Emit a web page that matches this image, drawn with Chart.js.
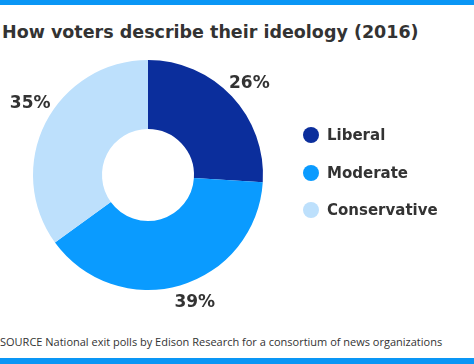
<!DOCTYPE html>
<html><head><meta charset="utf-8">
<script src="https://cdn.jsdelivr.net/npm/chart.js@4"></script>
<style>
html,body{margin:0;padding:0;background:#fff;width:474px;height:364px;overflow:hidden;position:relative;font-family:"DejaVu Sans",sans-serif;color:#333;}
#topbar{position:absolute;left:0;top:0;width:474px;height:5px;background:#0a96f5;}
#botbar{position:absolute;left:0;top:358px;width:474px;height:6px;background:#0a96f5;}
#title{position:absolute;left:2px;top:22px;font-weight:bold;font-size:17.5px;white-space:nowrap;}
#source{position:absolute;left:0;top:334px;font-family:"Open Sans",sans-serif;font-size:11px;white-space:nowrap;color:#333;}
#wrap{position:absolute;left:0;top:40px;width:474px;height:280px;}
</style></head><body>
<div id="topbar"></div>
<div id="title">How voters describe their ideology (2016)</div>
<div id="wrap"><canvas id="c"></canvas></div>
<div id="source">SOURCE National exit polls by Edison Research for a consortium of news organizations</div>
<div id="botbar"></div>
<script>
const categories = ["Liberal", "Moderate", "Conservative"];
const values = [26, 39, 35];
const colors = ["#0b2e9c", "#0a9bff", "#bde0fc"];

const labelPlugin = {
  id: 'labels',
  afterDatasetsDraw(chart) {
    const ctx = chart.ctx;
    const meta = chart.getDatasetMeta(0);
    ctx.save();
    ctx.font = 'bold 17px "DejaVu Sans"';
    ctx.fillStyle = '#333';
    ctx.textAlign = 'center';
    ctx.textBaseline = 'middle';
    const shifts = [[0, 4], [8, -6], [6, -8]];
    meta.data.forEach((arc, i) => {
      const p = arc.getProps(['x','y','startAngle','endAngle','outerRadius'], true);
      const a = (p.startAngle + p.endAngle) / 2;
      const r = p.outerRadius + 24;
      ctx.fillText(values[i] + '%', p.x + Math.cos(a) * r + shifts[i][0], p.y + Math.sin(a) * r + shifts[i][1]);
    });
    // legend
    const lx = 311, ys = [95, 133, 170];
    ctx.textAlign = 'left';
    ctx.font = 'bold 15px "DejaVu Sans"';
    categories.forEach((c, i) => {
      ctx.beginPath();
      ctx.fillStyle = colors[i];
      ctx.arc(lx, ys[i], 8, 0, Math.PI * 2);
      ctx.fill();
      ctx.fillStyle = '#333';
      ctx.fillText(c, lx + 16, ys[i] + 1);
    });
    ctx.restore();
  }
};

new Chart(document.getElementById('c'), {
  type: 'doughnut',
  data: { labels: categories, datasets: [{ data: values, backgroundColor: colors, borderWidth: 0 }] },
  options: {
    responsive: true, maintainAspectRatio: false, animation: false,
    cutout: '40%',
    layout: { padding: { left: 0, right: 178, top: 20, bottom: 30 } },
    plugins: { legend: { display: false }, tooltip: { enabled: false } }
  },
  plugins: [labelPlugin]
});
</script>
</body></html>
